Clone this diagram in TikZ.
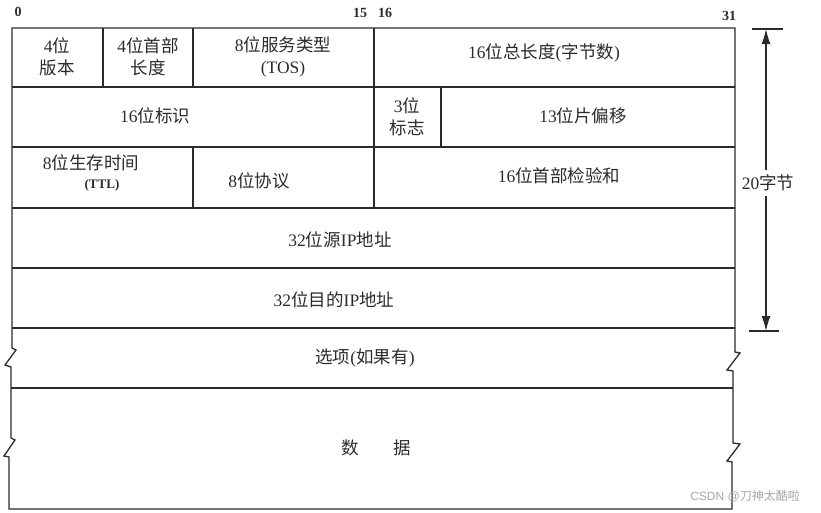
\documentclass[tikz,border=0pt]{standalone}
\usepackage{fontspec}
\setmainfont{Liberation Serif}
\newfontfamily\cjk{Noto Sans CJK SC}[Scale=1.0]
\newfontfamily\wmfont{Liberation Sans}
\newfontfamily\wmcjk{Noto Sans CJK SC}
\usetikzlibrary{arrows.meta}
\newcommand\zh[1]{{\cjk #1}}
\definecolor{ink}{HTML}{2B2B2B}
\tikzset{
  grid/.style={line width=1.3pt, draw=ink, line join=miter},
  lbl/.style={text=ink, font=\fontsize{17.5}{22}\selectfont, inner sep=0pt, align=center},
  bitno/.style={text=ink, font=\fontsize{14}{16}\selectfont\bfseries, inner sep=0pt},
  dim/.style={line width=1.3pt, draw=ink},
  dimarrow/.style={dim, -{Latex[length=15pt,width=9pt]}},
}
\begin{document}
\begin{tikzpicture}[x=1pt,y=-1pt]
\useasboundingbox (0,0) rectangle (821,512);
% outer frame with broken sides
\draw[grid] (12,28) -- (735,28) -- (735,352) -- (740,353) -- (727,370) -- (733,371)
  -- (733,443) -- (740,444) -- (727,461) -- (732,462) -- (732,509)
  -- (9,509) -- (9,457) -- (4,456) -- (15,440) -- (11,438) -- (11,367)
  -- (5,365) -- (16,350) -- (12,348) -- cycle;
% row lines
\draw[grid] (12,87) -- (735,87);
\draw[grid] (12,147) -- (735,147);
\draw[grid] (12,208) -- (735,208);
\draw[grid] (12,268) -- (735,268);
\draw[grid] (12,328) -- (735,328);
\draw[grid] (11,388) -- (733,388);
% column dividers
\draw[grid] (103,28) -- (103,87);
\draw[grid] (193,28) -- (193,87);
\draw[grid] (374,28) -- (374,208);
\draw[grid] (441,87) -- (441,147);
\draw[grid] (193,147) -- (193,208);
% bit numbers
\node[bitno] (b0) at (18,12) {0};
\node[bitno] (b15) at (360,13) {15};
\node[bitno] (b16) at (385,13) {16};
\node[bitno] (b31) at (729,16) {31};
% fields
\node[lbl] (ver) at (57,57) {4\zh{位}\\\zh{版本}};
\node[lbl] (ihl) at (148,57) {4\zh{位首部}\\\zh{长度}};
\node[lbl] (tos) at (283,57) {8\zh{位服务类型}\\(TOS)};
\node[lbl] (tlen) at (544,53) {16\zh{位总长度}(\zh{字节数})};
\node[lbl] (ident) at (155,116) {16\zh{位标识}};
\node[lbl] (flags) at (407,117) {3\zh{位}\\\zh{标志}};
\node[lbl] (frag) at (583,116) {13\zh{位片偏移}};
\node[lbl] (ttl) at (91,163) {8\zh{位生存时间}};
\node[bitno, font=\fontsize{13}{15}\selectfont\bfseries] (ttlb) at (102,185) {(TTL)};
\node[lbl] (proto) at (259,181) {8\zh{位协议}};
\node[lbl] (csum) at (559,176) {16\zh{位首部检验和}};
\node[lbl] (src) at (340,240) {32\zh{位源}IP\zh{地址}};
\node[lbl] (dst) at (334,300) {32\zh{位目的}IP\zh{地址}};
\node[lbl] (opt) at (365,358) {\zh{选项}(\zh{如果有})};
\node[lbl] (data) at (376,448) {\zh{数}\hspace{35pt}\zh{据}};
% 20-byte dimension
\coordinate (top) at (766,29);
\coordinate (bot) at (766,331);
\draw[dim] (752,29) -- (783,29);
\draw[dim] (749,331) -- (779,331);
\node[lbl, fill=white, inner ysep=5pt] (len) at (768,183) {20\zh{字节}};
\draw[dimarrow] (len.north -| top) -- (top);
\draw[dimarrow] (len.south -| bot) -- (bot);
% watermark
\node[text=black!35, font=\fontsize{12}{14}\selectfont, inner sep=0pt] (wm) at (745,496)
  {\wmfont CSDN @{\wmcjk 刀神太酷啦}};
\end{tikzpicture}
\end{document}
